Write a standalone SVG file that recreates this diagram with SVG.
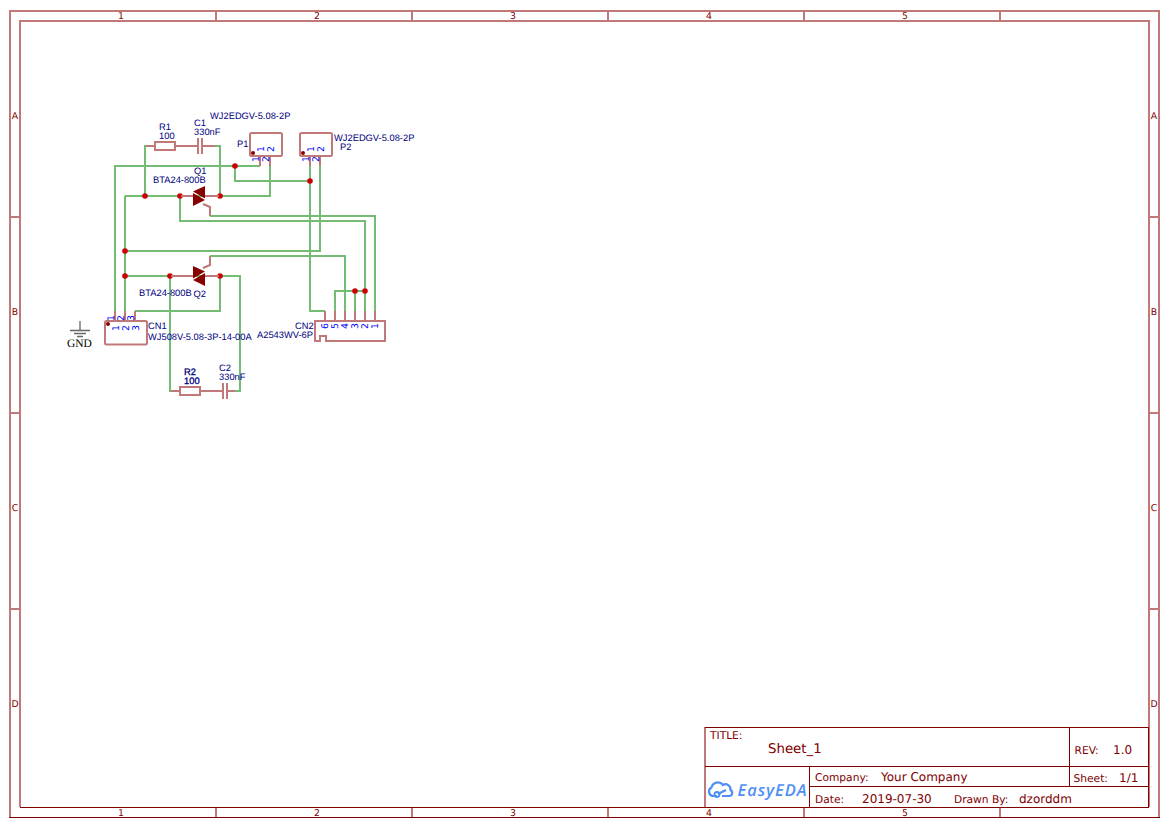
<svg xmlns="http://www.w3.org/2000/svg" width="1169" height="828" viewBox="0 0 1169 828">
<style>
text{text-rendering:geometricPrecision}
.f{fill:none;stroke:#c07878;stroke-width:2}
.c{fill:none;stroke:#800000;stroke-width:1}
.d{font-family:"DejaVu Sans",sans-serif;fill:#800000}
.s{font-size:10.67px}.m{font-size:12px}.t{font-size:9.33px;text-anchor:middle}
.w{fill:none;stroke:#74bb74;stroke-width:2}
.j{fill:#cc0000}
.p{fill:none;stroke:#c07878;stroke-width:2}
.b{fill:#880000;stroke:none}
.l{font-family:"Liberation Sans",Arial,sans-serif;font-size:9.33px;fill:#000080}
.n{font-family:"DejaVu Sans",sans-serif;font-size:9.33px;fill:#0000ff}
.g{fill:none;stroke:#666666;stroke-width:1.3}
.e{fill:none;stroke:#4f8ff5;stroke-width:2.2}
</style>
<rect width="1169" height="828" fill="#ffffff"/>
<g id="frame">
<path class="f" d="M10 817V11H1159V817M20 807V21H1149V807M216 11V21M412 11V21M608 11V21M804 11V21M1000 11V21M216 807V817M412 807V817M608 807V817M804 807V817M1000 807V817M10 217H20M10 413H20M10 609H20M1149 217H1159M1149 413H1159M1149 609H1159"/>
<path class="c" d="M9 817.500H1160M20 807.500H1149"/>
<g class="d t"><text x="121" y="19">1</text><text x="317" y="19">2</text><text x="513" y="19">3</text><text x="709" y="19">4</text><text x="905" y="19">5</text>
<text x="121" y="816">1</text><text x="317" y="816">2</text><text x="513" y="816">3</text><text x="709" y="816">4</text><text x="905" y="816">5</text>
<text x="15" y="119">A</text><text x="15" y="315">B</text><text x="15" y="511">C</text><text x="15" y="707">D</text>
<text x="1154" y="119">A</text><text x="1154" y="315">B</text><text x="1154" y="511">C</text><text x="1154" y="707">D</text></g>
</g>
<g id="titleblock">
<path class="f" d="M705 727V807"/>
<path class="c" d="M705 727.500H1148.500V807M705 766.500H1149M809.500 766.500V807M809.500 786.500H1149M1069.500 727.500V786.500"/>
<text class="d s" x="710" y="739">TITLE:</text>
<text class="d" font-size="13.33" x="768" y="753">Sheet_1</text>
<text class="d s" x="1074.500" y="754">REV:</text>
<text class="d m" x="1113" y="754">1.0</text>
<text class="d s" x="815" y="781">Company:</text>
<text class="d m" x="881" y="781">Your Company</text>
<text class="d s" x="1073.500" y="782">Sheet:</text>
<text class="d m" x="1119" y="782">1/1</text>
<text class="d s" x="815" y="803">Date:</text>
<text class="d m" x="862" y="803">2019-07-30</text>
<text class="d s" x="954" y="803">Drawn By:</text>
<text class="d m" x="1019" y="803">dzorddm</text>
</g>
<g id="logo">
<path class="e" d="M717 796h-4a4.500 4.500 0 0 1 -1.500 -8.500a6.500 6.500 0 0 1 11.500 -2.500a5 5 0 0 1 7.500 5a3.200 3.200 0 0 1 -1 6h-7.500"/>
<path class="e" d="M718 794l8 -4"/>
<circle cx="717" cy="794.500" r="2.500" fill="none" stroke="#4f8ff5" stroke-width="1.800"/>
<text x="737.500" y="796" font-family="'Open Sans',sans-serif" font-weight="600" font-style="italic" font-size="16.500" fill="#4f8ff5" textLength="69">EasyEDA</text>
</g>
<g id="connectors">
<path class="w" d="M145 196V146H155M215 146H220V196M125 196H270V166M115 311V166H260M235 166V181H310M310 166V311H325M320 166V251H125M125 196V311M135 311H220V276M125 276H240V391H235M170 276V391H175M345 311V256H210M335 311V291H365M355 291V311M365 311V221H180V196M375 311V216H210"/>
<g class="j">
<circle cx="145" cy="196" r="2.800"/><circle cx="180" cy="196" r="2.800"/><circle cx="220" cy="196" r="2.800"/><circle cx="235" cy="166" r="2.800"/><circle cx="310" cy="181" r="2.800"/><circle cx="125" cy="251" r="2.800"/><circle cx="125" cy="276" r="2.800"/><circle cx="170" cy="276" r="2.800"/><circle cx="220" cy="276" r="2.800"/><circle cx="355" cy="291" r="2.800"/><circle cx="365" cy="291" r="2.800"/>
</g>
</g>
<g id="R1"><path class="p" d="M146 146H155M175 146H198"/><rect class="p" x="155" y="142" width="20" height="8"/>
<text class="l" x="159" y="130">R1</text><text class="l" x="159" y="139">100</text></g>
<g id="C1"><path class="p" d="M202 146H215M198 138V154M202 138V154"/>
<text class="l" x="194" y="126">C1</text><text class="l" x="194" y="135">330nF</text></g>
<g id="P1"><rect class="p" x="250" y="133" width="32" height="23" rx="1.500"/><circle class="b" cx="253" cy="153" r="2"/><path class="p" d="M260 157V166M270 157V166"/>
<text class="n" transform="translate(263.500,152) rotate(-90)">1</text><text class="n" transform="translate(273.500,152) rotate(-90)">2</text>
<text class="n" transform="translate(259,162) rotate(-90)">1</text><text class="n" transform="translate(269,162) rotate(-90)">2</text>
<text class="l" x="237" y="147">P1</text><text class="l" x="210" y="119">WJ2EDGV-5.08-2P</text></g>
<g id="P2"><rect class="p" x="300" y="133" width="32" height="23" rx="1.500"/><circle class="b" cx="303" cy="153" r="2"/><path class="p" d="M310 157V166M320 157V166"/>
<text class="n" transform="translate(314,152) rotate(-90)">1</text><text class="n" transform="translate(324,152) rotate(-90)">2</text>
<text class="n" transform="translate(309,162) rotate(-90)">1</text><text class="n" transform="translate(319,162) rotate(-90)">2</text>
<text class="l" x="334" y="141">WJ2EDGV-5.08-2P</text><text class="l" x="340" y="150">P2</text></g>
<g id="Q1"><path class="p" d="M181 196H193M205 196H219M203 204L210 207V216"/>
<path class="b" d="M205 186V198.500L193 191.500Z"/><path class="b" d="M193 193V206L205 200Z"/>
<text class="l" x="194" y="174">Q1</text><text class="l" x="153" y="183">BTA24-800B</text></g>
<g id="Q2"><path class="p" d="M171 276H193M205 276H219M203 268L210 265V256"/>
<path class="b" d="M193 266V278.500L205 271.500Z"/><path class="b" d="M205 273V286L193 280Z"/>
<text class="l" x="139" y="296">BTA24-800B</text><text class="l" x="193.500" y="297">Q2</text></g>
<g id="GND"><path class="g" d="M80 321V331M70 330.500H90M74 333.500H86M77 336.500H83"/>
<text x="67" y="347" font-family="'Liberation Serif',serif" font-size="11.500" fill="#000000">GND</text></g>
<g id="CN1"><rect class="p" x="105" y="321" width="42" height="23.500" rx="1.500"/><circle class="b" cx="108" cy="324" r="2"/><path class="p" d="M115 311V320M125 311V320M135 311V320"/>
<text class="n" transform="translate(114,321) rotate(-90)">1</text><text class="n" transform="translate(124,321) rotate(-90)">2</text><text class="n" transform="translate(134,321) rotate(-90)">3</text>
<text class="n" transform="translate(119,331) rotate(-90)">1</text><text class="n" transform="translate(129,331) rotate(-90)">2</text><text class="n" transform="translate(139,331) rotate(-90)">3</text>
<text class="l" x="148" y="329">CN1</text><text class="l" x="148" y="340">WJ508V-5.08-3P-14-00A</text></g>
<g id="CN2"><path class="p" d="M315 321H385V341H326V336H320V341H315Z"/><path class="p" d="M325 311V320M335 311V320M345 311V320M355 311V320M365 311V320M375 311V320"/>
<text class="n" transform="translate(328,329) rotate(-90)">6</text><text class="n" transform="translate(338,329) rotate(-90)">5</text><text class="n" transform="translate(348,329) rotate(-90)">4</text><text class="n" transform="translate(358,329) rotate(-90)">3</text><text class="n" transform="translate(368,329) rotate(-90)">2</text><text class="n" transform="translate(378,329) rotate(-90)">1</text>
<text class="l" x="295" y="329">CN2</text><text class="l" x="257" y="338">A2543WV-6P</text></g>
<g id="R2"><path class="p" d="M171 391H180M200 391H223"/><rect class="p" x="180" y="387" width="20" height="8"/>
<text class="l" x="184" y="375" stroke="#000080" stroke-width="0.300">R2</text><text class="l" x="184" y="384" stroke="#000080" stroke-width="0.300">100</text></g>
<g id="C2"><path class="p" d="M223 383V399M227 383V399M227 391H235"/>
<text class="l" x="219" y="371">C2</text><text class="l" x="219" y="380">330nF</text></g>
</svg>
